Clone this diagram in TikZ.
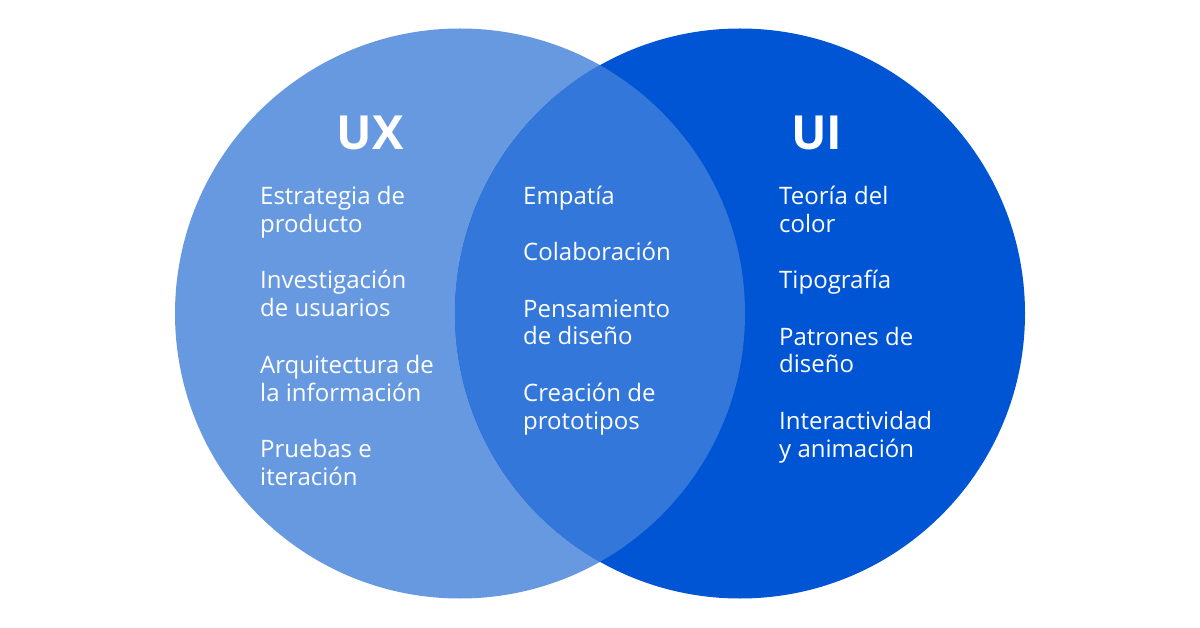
\documentclass[tikz,border=0pt]{standalone}
\usepackage{fontspec}
\setmainfont{Open Sans}
\definecolor{uxblue}{HTML}{6699E0}
\definecolor{uiblue}{HTML}{0055D4}
\definecolor{midblue}{HTML}{3377DB}
\begin{document}
\begin{tikzpicture}[x=1pt,y=-1pt,
  item/.style={anchor=base west,inner sep=0pt,text=white,align=left,font=\fontsize{24}{28}\selectfont},
  head/.style={inner sep=0pt,text=white,font=\fontsize{47}{50}\selectfont\bfseries}]
\useasboundingbox[fill=white] (0,0) rectangle (1200,628);
\fill[uxblue] (460,313.5) circle (285);
\fill[uiblue] (740,313.5) circle (285);
\begin{scope}
\clip (460,313.5) circle (285);
\fill[midblue] (740,313.5) circle (285);
\end{scope}
\node[head] (ux) at (370,133) {UX};
\node[head] (ui) at (817,133) {UI};
\node[item] (l1) at (260,233) {Estrategia de\\producto};
\node[item] (l2) at (260,317) {Investigación\\de usuarios};
\node[item] (l3) at (260,401) {Arquitectura de\\la información};
\node[item] (l4) at (260,485) {Pruebas e\\iteración};
\node[item] (m1) at (523,205) {Empatía};
\node[item] (m2) at (523,261) {Colaboración};
\node[item] (m3) at (523,345) {Pensamiento\\de diseño};
\node[item] (m4) at (523,429) {Creación de\\prototipos};
\node[item] (r1) at (779,233) {Teoría del\\color};
\node[item] (r2) at (779,289) {Tipografía};
\node[item] (r3) at (779,373) {Patrones de\\diseño};
\node[item] (r4) at (779,457) {Interactividad\\y animación};
\end{tikzpicture}
\end{document}
